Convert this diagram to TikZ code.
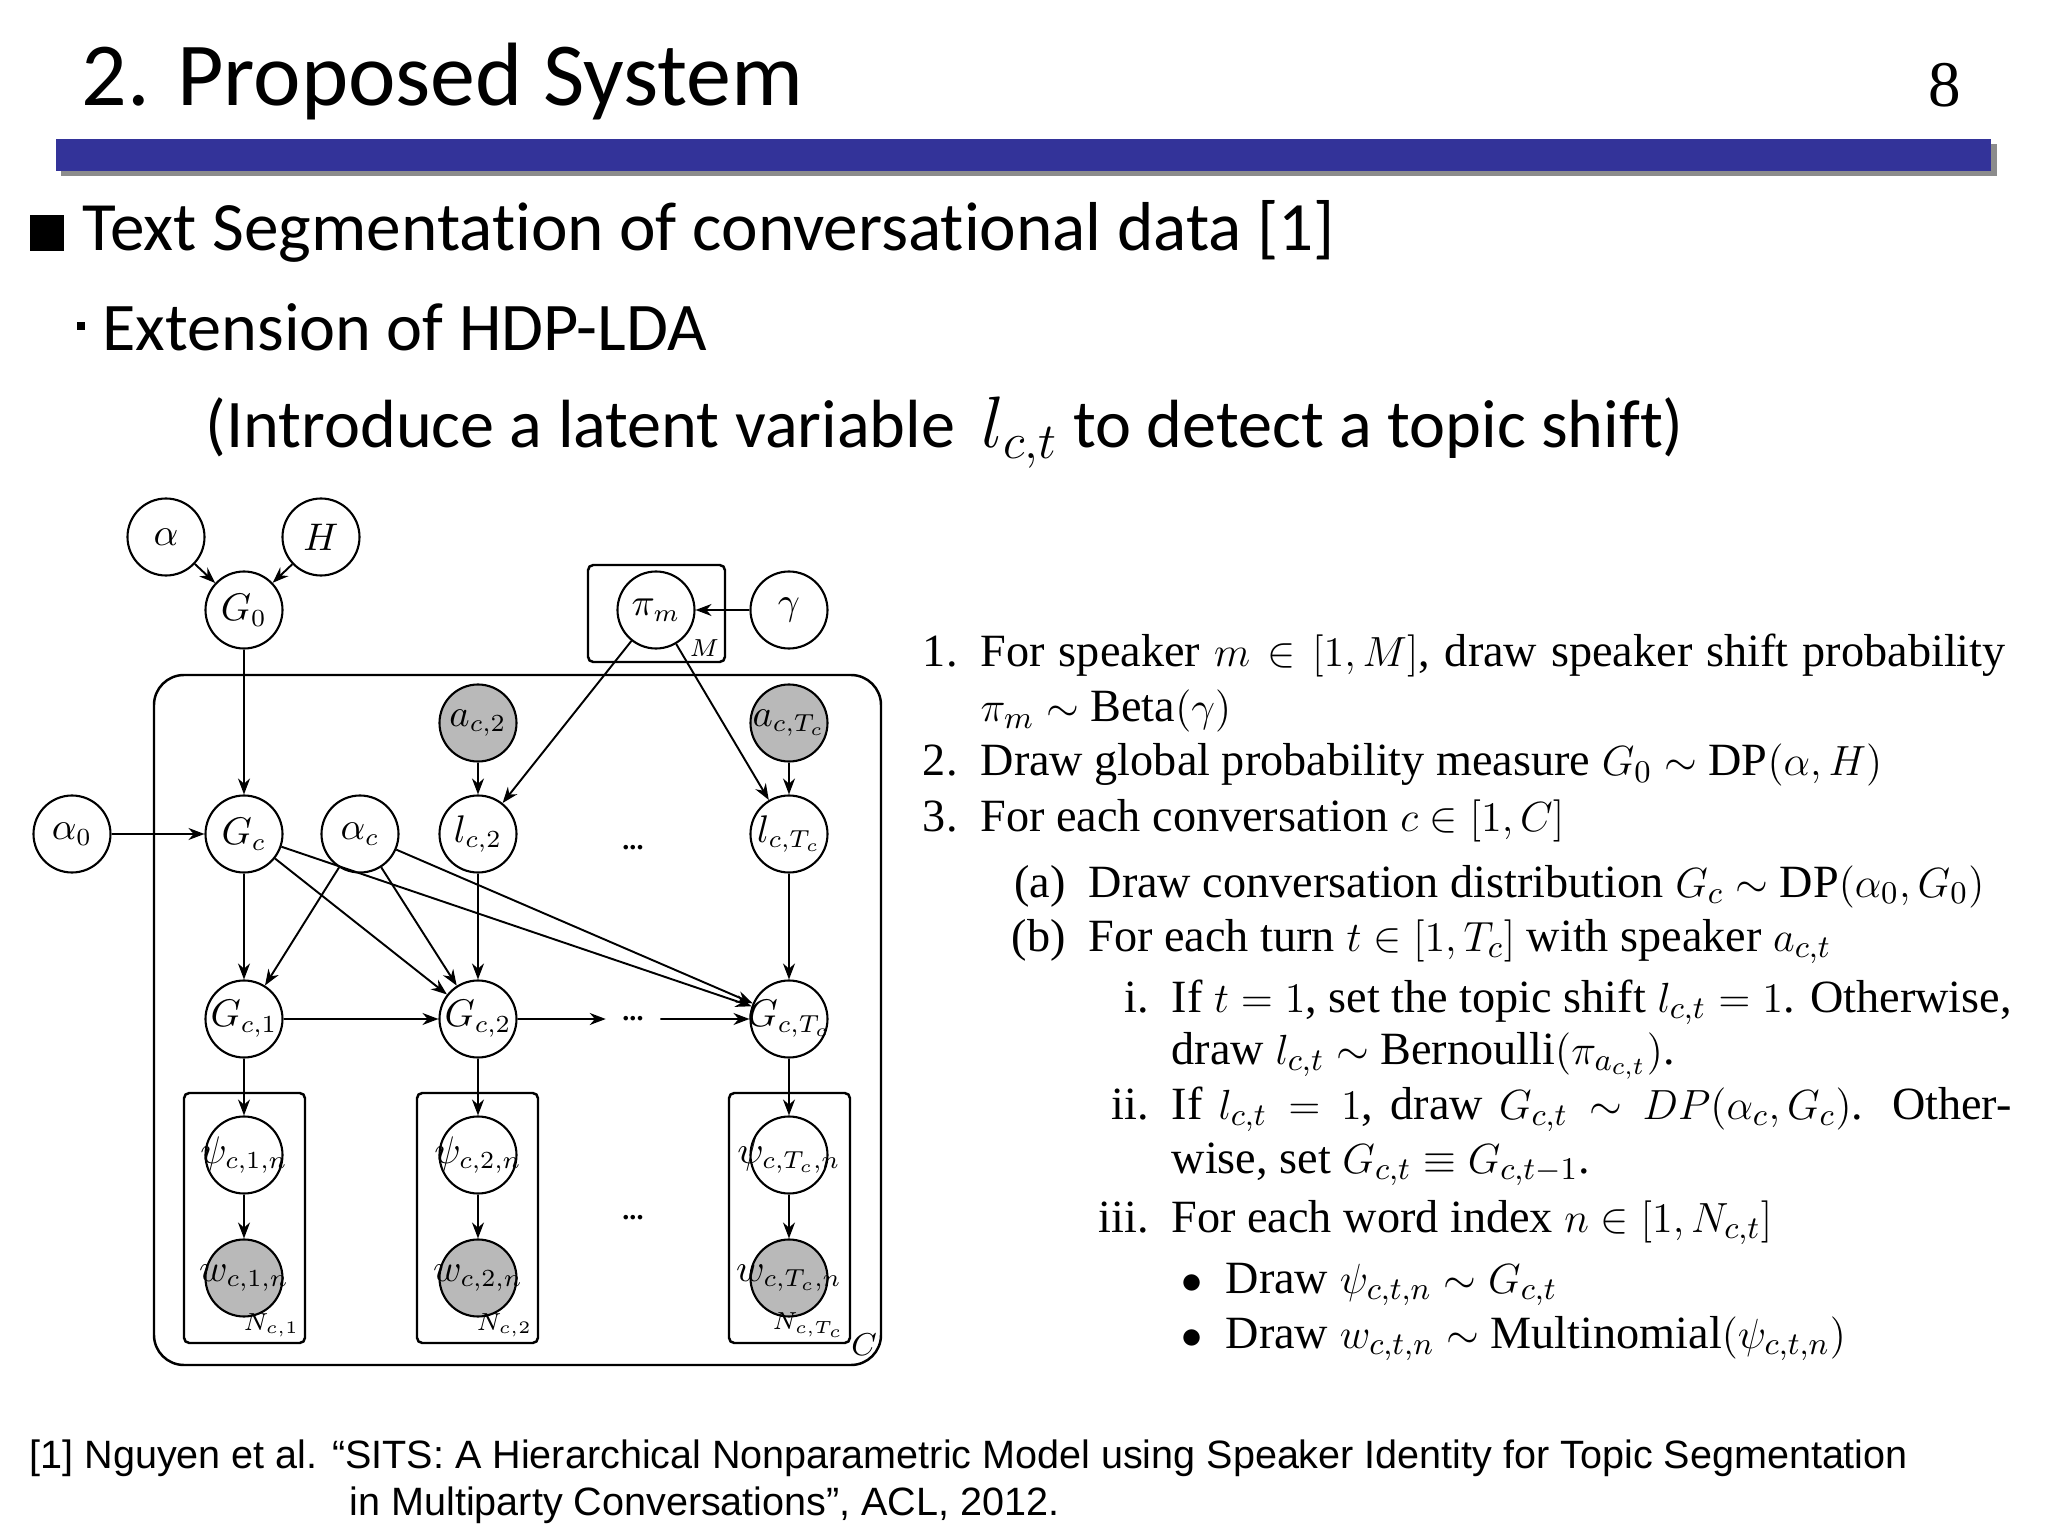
\documentclass[tikz,border=0pt]{standalone}
\usepackage{fontspec}
\setmainfont{Liberation Serif}
\newfontfamily\slidefont[Ligatures=NoCommon]{Carlito}
\newfontfamily\citefont{Liberation Sans}
\usetikzlibrary{positioning,arrows.meta}

\definecolor{barblue}{HTML}{333399}
\definecolor{barshadow}{HTML}{8C8C8C}

\begin{document}
\begin{tikzpicture}[
var/.style={circle, draw, line width=0.6pt, minimum size=0.77cm, inner sep=0pt, fill=white, font=\fontsize{10.5}{12}\selectfont},
obs/.style={var, fill=gray!55},
plate/.style={draw, line width=0.7pt, rounded corners=1.5pt},
arr/.style={-{Stealth[length=1.6mm,width=1.2mm]}, line width=0.55pt},
dots/.style={font=\fontsize{8}{9}\bfseries, inner sep=0pt},
slide/.style={anchor=base west, inner sep=0pt, font=\slidefont\fontsize{19.4}{22}\selectfont},
steptext/.style={anchor=base west, inner sep=0pt, font=\fontsize{13.15}{15}\selectfont},
on grid
]
\useasboundingbox (0,0) rectangle (20.48,-15.36);

% slide header
\node[anchor=base west, inner sep=0pt, font=\slidefont\fontsize{25.6}{30}\selectfont] (title) at (0.81,-1.06) {2. Proposed System};
\node[anchor=base east, inner sep=0pt, font=\fontsize{18.5}{20}\selectfont] (pagenum) at (19.62,-1.07) {8};
\fill[barshadow] (0.61,-1.44) rectangle (19.97,-1.76);
\fill[barblue] (0.56,-1.39) rectangle (19.91,-1.71);

\node[slide, font=\slidefont\fontsize{19.7}{22}\selectfont] (topic) at (0.29,-2.51) {\rule{0.34cm}{0.36cm}\hspace{0.19cm}Text Segmentation of conversational data [1]};
\node[slide] (ext) at (0.76,-3.51) {\raisebox{0.21cm}{\rule{0.08cm}{0.08cm}}\hspace{0.18cm}Extension of HDP-LDA};
\node[slide] (intro) at (2.05,-4.48) {(Introduce a latent variable \,$l_{c,t}$\ to detect a topic shift)};

% graphical model
\node[var] (G0) at (2.44,-6.10) {\makebox[0pt]{$G_0$}};
\node[var, above left=0.73cm and 0.78cm of G0] (alpha) {\makebox[0pt]{$\alpha$}};
\node[var, above right=0.73cm and 0.77cm of G0] (H) {\makebox[0pt]{$H$}};
\node[var, right=4.12cm of G0] (pim) {\makebox[0pt]{$\pi_m$}};
\node[var, right=1.33cm of pim] (gamma) {\makebox[0pt]{$\gamma$}};

\node[var, below=2.24cm of G0] (Gc) {\makebox[0pt]{$G_c$}};
\node[var, left=1.72cm of Gc] (alpha0) {\makebox[0pt]{$\alpha_0$}};
\node[var, right=1.16cm of Gc] (alphac) {\makebox[0pt]{$\alpha_c$}};
\node[var, right=2.34cm of Gc] (l2) {\makebox[0pt]{$l_{c,2}$}};
\node[var, right=3.11cm of l2] (lT) {\makebox[0pt]{$l_{c,T_c}$}};
\node[obs, above=1.11cm of l2] (a2) {\makebox[0pt]{$a_{c,2}$}};
\node[obs, above=1.11cm of lT] (aT) {\makebox[0pt]{$a_{c,T_c}$}};

\node[var, below=1.85cm of Gc] (Gc1) {\makebox[0pt]{$G_{c,1}$}};
\node[var, below=1.85cm of l2] (Gc2) {\makebox[0pt]{$G_{c,2}$}};
\node[var, below=1.85cm of lT] (GcT) {\makebox[0pt]{$G_{c,T_c}$}};

\node[var, below=1.36cm of Gc1] (psi1) {\makebox[0pt]{$\psi_{c,1,n}$}};
\node[var, below=1.36cm of Gc2] (psi2) {\makebox[0pt]{$\psi_{c,2,n}$}};
\node[var, below=1.36cm of GcT] (psiT) {\makebox[0pt]{$\psi_{c,T_c,n}$}};
\node[obs, below=1.23cm of psi1] (w1) {\makebox[0pt]{$w_{c,1,n}$}};
\node[obs, below=1.23cm of psi2] (w2) {\makebox[0pt]{$w_{c,2,n}$}};
\node[obs, below=1.23cm of psiT] (wT) {\makebox[0pt]{$w_{c,T_c,n}$}};

\node[dots] (dotsl) at (6.33,-8.48) {...};
\node[dots, inner xsep=0.16cm, inner ysep=0.05cm] (dotsG) at (6.33,-10.19) {...};
\node[dots] (dotsw) at (6.33,-12.18) {...};

% plates
\draw[plate] (5.88,-5.65) rectangle (7.25,-6.62);
\node[anchor=south east, inner sep=1.5pt, font=\scriptsize] (Mlabel) at (7.25,-6.62) {$M$};
\draw[plate, rounded corners=0.3cm] (1.54,-6.75) rectangle (8.81,-13.65);
\node[anchor=south east, inner sep=1pt, font=\small] (Clabel) at (8.81,-13.60) {$C$};
\draw[plate] (1.84,-10.93) rectangle (3.05,-13.43);
\draw[plate] (4.17,-10.93) rectangle (5.38,-13.43);
\draw[plate] (7.29,-10.93) rectangle (8.50,-13.43);
\node[anchor=south east, inner sep=1.5pt, font=\scriptsize] (N1) at (3.05,-13.43) {$N_{c,1}$};
\node[anchor=south east, inner sep=1.5pt, font=\scriptsize] (N2) at (5.38,-13.43) {$N_{c,2}$};
\node[anchor=south east, inner sep=1.5pt, font=\scriptsize] (NT) at (8.50,-13.43) {$N_{c,T_c}$};

% edges
\draw[arr] (alpha) -- (G0);
\draw[arr] (H) -- (G0);
\draw[arr] (G0) -- (Gc);
\draw[arr] (gamma) -- (pim);
\draw[arr] (pim) -- (l2);
\draw[arr] (pim) -- (lT);
\draw[arr] (a2) -- (l2);
\draw[arr] (aT) -- (lT);
\draw[arr] (alpha0) -- (Gc);
\draw[arr] (Gc) -- (Gc1);
\draw[arr] (Gc) -- (Gc2);
\draw[arr] (Gc) -- (GcT);
\draw[arr] (alphac) -- (Gc1);
\draw[arr] (alphac) -- (Gc2);
\draw[arr] (alphac) -- (GcT);
\draw[arr] (l2) -- (Gc2);
\draw[arr] (lT) -- (GcT);
\draw[arr] (Gc1) -- (Gc2);
\draw[arr] (Gc2) -- (dotsG);
\draw[arr] (dotsG) -- (GcT);
\draw[arr] (Gc1) -- (psi1);
\draw[arr] (Gc2) -- (psi2);
\draw[arr] (GcT) -- (psiT);
\draw[arr] (psi1) -- (w1);
\draw[arr] (psi2) -- (w2);
\draw[arr] (psiT) -- (wT);

% generative process
\node[steptext] (step1) at (9.80,-6.66) {\llap{1.\hspace{0.5em}}\makebox[10.25cm][s]{For speaker $m\in[1,M]$, draw speaker shift probability}};
\node[steptext] (step1b) at (9.80,-7.22) {$\pi_m\sim$ Beta$(\gamma)$};
\node[steptext] (step2) at (9.80,-7.76) {\llap{2.\hspace{0.5em}}Draw global probability measure $G_0\sim$ DP$(\alpha,H)$};
\node[steptext] (step3) at (9.80,-8.31) {\llap{3.\hspace{0.5em}}For each conversation $c\in[1,C]$};
\node[steptext] (step3a) at (10.88,-8.97) {\llap{(a)\hspace{0.5em}}Draw conversation distribution $G_c\sim$ DP$(\alpha_0,G_0)$};
\node[steptext] (step3b) at (10.88,-9.51) {\llap{(b)\hspace{0.5em}}For each turn $t\in[1,T_c]$ with speaker $a_{c,t}$};
\node[steptext] (stepi) at (11.71,-10.12) {\llap{i.\hspace{0.5em}}\makebox[8.40cm][s]{If $t=1$, set the topic shift $l_{c,t}=1$. Otherwise,}};
\node[steptext] (stepib) at (11.71,-10.64) {draw $l_{c,t}\sim$ Bernoulli$(\pi_{a_{c,t}})$.};
\node[steptext] (stepii) at (11.71,-11.19) {\llap{ii.\hspace{0.5em}}\makebox[8.40cm][s]{If $l_{c,t}=1$, draw $G_{c,t}\sim DP(\alpha_c,G_c)$. Other-}};
\node[steptext] (stepiib) at (11.71,-11.73) {wise, set $G_{c,t}\equiv G_{c,t-1}$.};
\node[steptext] (stepiii) at (11.71,-12.32) {\llap{iii.\hspace{0.5em}}For each word index $n\in[1,N_{c,t}]$};
\node[steptext] (drawpsi) at (12.25,-12.93) {\llap{$\bullet$\hspace{0.5em}}Draw $\psi_{c,t,n}\sim G_{c,t}$};
\node[steptext] (draww) at (12.25,-13.48) {\llap{$\bullet$\hspace{0.5em}}Draw $w_{c,t,n}\sim$ Multinomial$(\psi_{c,t,n})$};

% reference
\node[anchor=base west, inner sep=0pt, font=\citefont\fontsize{11.25}{13}\selectfont] (cite) at (0.29,-14.68) {[1] Nguyen et al. “SITS: A Hierarchical Nonparametric Model using Speaker Identity for Topic Segmentation};
\node[anchor=base west, inner sep=0pt, font=\citefont\fontsize{11.25}{13}\selectfont] (cite2) at (3.49,-15.15) {in Multiparty Conversations”, ACL, 2012.};
\end{tikzpicture}
\end{document}
